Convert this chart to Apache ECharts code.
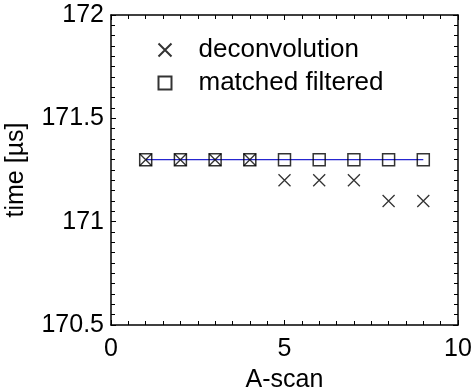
<!DOCTYPE html>
<html><head><meta charset="utf-8">
<script src="https://cdn.jsdelivr.net/npm/echarts@6/dist/echarts.min.js"></script>
<style>html,body{margin:0;padding:0;background:#fff}#c{width:474px;height:392px}</style>
</head><body><div id="c"></div>
<script>
const scanX = [1, 2, 3, 4, 5, 6, 7, 8, 9];
const deconvolution = [171.3, 171.3, 171.3, 171.3, 171.2, 171.2, 171.2, 171.1, 171.1];
const matchedFiltered = [171.3, 171.3, 171.3, 171.3, 171.3, 171.3, 171.3, 171.3, 171.3];
const fitLine = [171.3, 171.3, 171.3, 171.3, 171.3, 171.3, 171.3, 171.3, 171.3];
const xTicks = [0, 5, 10];
const yTicks = [170.5, 171, 171.5, 172];

const font = '"Liberation Sans", Arial, sans-serif';
const pair = (xs, ys) => xs.map((x, i) => [x, ys[i]]);
const crossPath = 'path://M0,0L10,10M10,0L0,10';

function axisBase(extra) {
  return Object.assign({
    axisLine: {show: true, onZero: false, lineStyle: {color: '#000', width: 1.5}},
    axisTick: {show: true, inside: true, length: 5, lineStyle: {color: '#000', width: 1}},
    minorTick: {show: true, splitNumber: 10, length: 4, lineStyle: {color: '#000', width: 1}},
    splitLine: {show: false},
    minorSplitLine: {show: false}
  }, extra);
}

const chart = echarts.init(document.getElementById('c'), null, {renderer: 'canvas'});
chart.setOption({
  animation: false,
  backgroundColor: '#fff',
  grid: {left: 111, right: 16, top: 15, bottom: 67, containLabel: false, outerBoundsMode: 'none'},
  xAxis: [
    axisBase({type: 'value', min: xTicks[0], max: xTicks[xTicks.length - 1], interval: 5, position: 'bottom',
      name: 'A-scan', nameLocation: 'middle', nameGap: 43,
      nameTextStyle: {fontFamily: font, fontSize: 25, color: '#000'},
      axisLabel: {fontFamily: font, fontSize: 25, color: '#000', margin: 12}}),
    axisBase({type: 'value', min: xTicks[0], max: xTicks[xTicks.length - 1], interval: 5, position: 'top',
      axisLabel: {show: false}})
  ],
  yAxis: [
    axisBase({type: 'value', min: yTicks[0], max: yTicks[yTicks.length - 1], interval: 0.5, position: 'left',
      name: 'time [µs]', nameLocation: 'middle', nameGap: 82, nameRotate: 90,
      nameTextStyle: {fontFamily: font, fontSize: 25, color: '#000'},
      axisLabel: {fontFamily: font, fontSize: 25, color: '#000', margin: 7,
        formatter: v => String(Math.round(v * 10) / 10)}}),
    axisBase({type: 'value', min: yTicks[0], max: yTicks[yTicks.length - 1], interval: 0.5, position: 'right',
      axisLabel: {show: false}})
  ],
  legend: {
    data: ['deconvolution', 'matched filtered'],
    orient: 'vertical', left: 151, top: 32,
    itemWidth: 13, itemHeight: 13, itemGap: 7,
    textStyle: {fontFamily: font, fontSize: 26, color: '#000', padding: [0, 0, 0, 22], lineHeight: 26}
  },
  series: [
    {name: 'fit', type: 'line', data: pair(scanX, fitLine), showSymbol: false, symbol: 'none',
      lineStyle: {color: '#2626d0', width: 1.3}, z: 1},
    {name: 'matched filtered', type: 'scatter', data: pair(scanX, matchedFiltered),
      symbol: 'rect', symbolSize: 12,
      itemStyle: {color: 'none', borderColor: '#000', borderWidth: 1.5}, z: 2},
    {name: 'deconvolution', type: 'scatter', data: pair(scanX, deconvolution),
      symbol: crossPath, symbolSize: 12,
      itemStyle: {color: 'none', borderColor: '#000', borderWidth: 1.3}, z: 3}
  ]
});
</script></body></html>
